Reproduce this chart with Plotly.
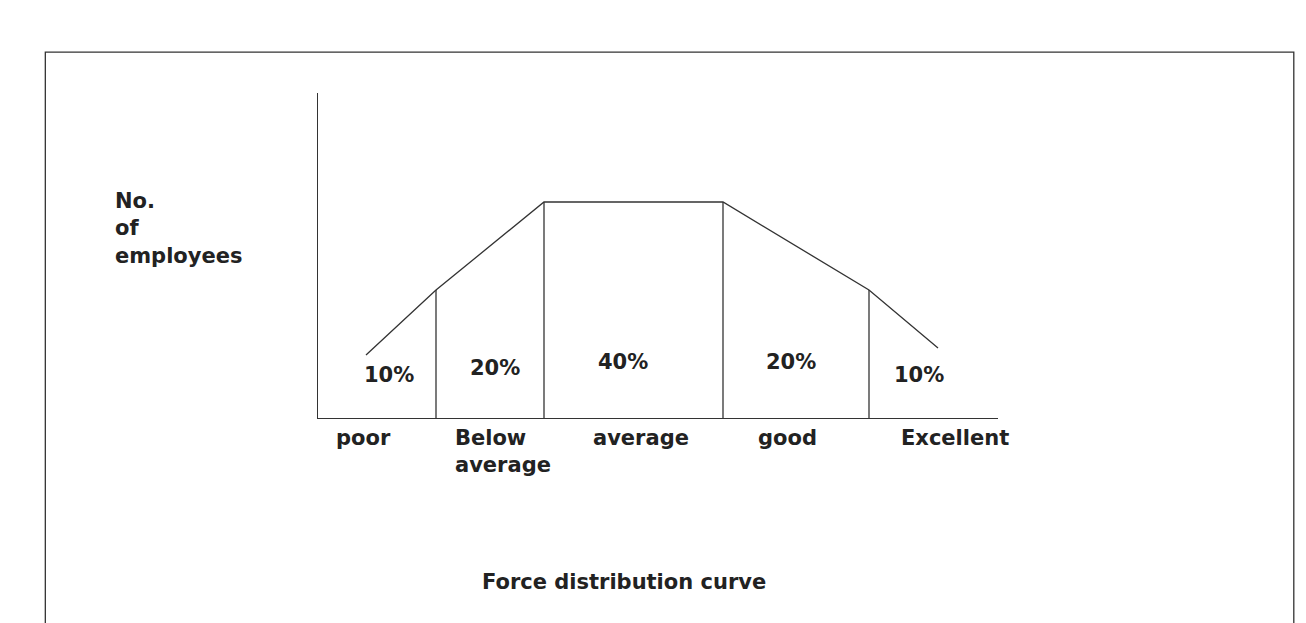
import plotly.graph_objects as go

# curve vertices (x, y) in chart units
curve_x = [48, 118, 226, 405, 551, 620]
curve_y = [63, 128, 216, 216, 128, 70]
# band boundaries (vertical lines)
bound_x = [118, 226, 405, 551]
bound_top = [128, 216, 216, 128]
# percentages
pct_labels = ["10%", "20%", "40%", "20%", "10%"]
pct_x = [71, 177, 305, 473, 601]
pct_y = [43, 50, 56, 56, 43]
# categories
cat_labels = ["poor", "Below<br>average", "average", "good", "Excellent"]
cat_x = [16, 135, 273, 438, 581]

F = "DejaVu Sans"
fig = go.Figure()
fig.add_trace(go.Scatter(x=curve_x, y=curve_y, mode="lines",
                         line=dict(color="#333", width=1.3), hoverinfo="skip"))
for bx, bt in zip(bound_x, bound_top):
    fig.add_trace(go.Scatter(x=[bx, bx], y=[0, bt], mode="lines",
                             line=dict(color="#333", width=1.3), hoverinfo="skip"))
ann = []
for t, x, y in zip(pct_labels, pct_x, pct_y):
    ann.append(dict(x=x, y=y, text=f"<b>{t}</b>", showarrow=False, xanchor="center",
                    font=dict(family=F, size=21, color="#222")))
for t, x in zip(cat_labels, cat_x):
    ann.append(dict(x=x, y=0, yshift=-6, text=f"<b>{t}</b>", showarrow=False,
                    xanchor="left", yanchor="top", align="left",
                    font=dict(family=F, size=21, color="#222")))
ann.append(dict(xref="paper", yref="paper", x=-0.301, y=0.71, text="<b>No.<br>of<br>employees</b>",
                showarrow=False, xanchor="left", yanchor="top", align="left",
                font=dict(family=F, size=21, color="#222")))
ann.append(dict(xref="paper", yref="paper", x=0.45, y=-0.505, text="<b>Force distribution curve</b>",
                showarrow=False, xanchor="center", yanchor="middle",
                font=dict(family=F, size=21, color="#222")))
fig.update_layout(
    width=1306, height=623, showlegend=False,
    margin=dict(l=310, r=316, t=85, b=213),
    plot_bgcolor="white", paper_bgcolor="white",
    xaxis=dict(range=[0, 680], showgrid=False, zeroline=False, showticklabels=False,
               showline=True, linecolor="#333", linewidth=1.3, fixedrange=True),
    yaxis=dict(range=[0, 325], showgrid=False, zeroline=False, showticklabels=False,
               showline=True, linecolor="#333", linewidth=1.3, fixedrange=True),
    annotations=ann,
    shapes=[dict(type="rect", xref="paper", yref="paper", x0=-0.401, x1=1.435,
                 y0=-0.7, y1=1.126, line=dict(color="#333", width=1.3))],
)
fig.write_html("out.html")
